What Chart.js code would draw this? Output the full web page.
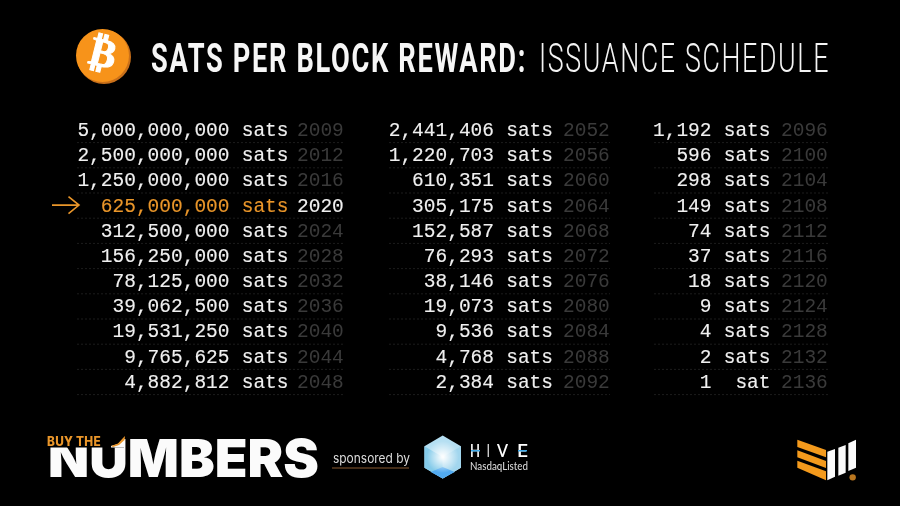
<!DOCTYPE html>
<html><head><meta charset="utf-8">
<style>html,body{margin:0;padding:0;background:#000;overflow:hidden}canvas{display:block}</style>
<script src="https://cdn.jsdelivr.net/npm/chart.js@4"></script>
</head><body><canvas id="c" width="900" height="506"></canvas>
<script>
const rewardsA=[5000000000,2500000000,1250000000,625000000,312500000,156250000,78125000,39062500,19531250,9765625,4882812];
const yearsA=[2009,2012,2016,2020,2024,2028,2032,2036,2040,2044,2048];
const rewardsB=[2441406,1220703,610351,305175,152587,76293,38146,19073,9536,4768,2384];
const yearsB=[2052,2056,2060,2064,2068,2072,2076,2080,2084,2088,2092];
const rewardsC=[1192,596,298,149,74,37,18,9,4,2,1];
const yearsC=[2096,2100,2104,2108,2112,2116,2120,2124,2128,2132,2136];
const currentYear=2020;
const titleBold='SATS PER BLOCK REWARD:';
const titleThin='ISSUANCE SCHEDULE';

const columns=[
 {rewards:rewardsA,years:yearsA,edge:229.5,left:77,right:345,yearGap:67.5},
 {rewards:rewardsB,years:yearsB,edge:494,left:389,right:610,yearGap:69},
 {rewards:rewardsC,years:yearsC,edge:711.5,left:654,right:829,yearGap:69.5}
];
const ORANGE='#ea962a',WHITE='#f0f0f0',DIM='#3a3a3a',MONO='19.5px "Liberation Mono","DejaVu Sans Mono",monospace';

const pointDatasets=columns.map(c=>({type:'scatter',data:c.rewards.map((v,i)=>({x:c.edge,y:i,reward:v,year:c.years[i],gap:c.yearGap})),pointRadius:0}));
const ruleDatasets=[];
columns.forEach(c=>c.rewards.forEach((_,i)=>ruleDatasets.push({type:'scatter',showLine:true,data:[{x:c.left,y:i+.5},{x:c.right,y:i+.5}],pointRadius:0,borderColor:'#1c1c1c',borderWidth:1,borderDash:[2,2]})));

function fit(ctx,t,x,y,w,font,col,ls,stroke){ctx.save();ctx.font=font;ctx.letterSpacing=(ls||0)+'px';ctx.fillStyle=col;ctx.textAlign='left';ctx.textBaseline='alphabetic';
 const m=ctx.measureText(t).width;ctx.translate(x,y);ctx.scale(w/m,1);ctx.fillText(t,0,0);
 if(stroke){ctx.strokeStyle=col;ctx.lineWidth=stroke;ctx.lineJoin='round';ctx.strokeText(t,0,0);}ctx.restore();}
function poly(ctx,p,col){ctx.fillStyle=col;ctx.beginPath();p.forEach((q,i)=>i?ctx.lineTo(q[0],q[1]):ctx.moveTo(q[0],q[1]));ctx.closePath();ctx.fill();}
function mono(ctx,t,x,y,col,weight){ctx.save();ctx.translate(x,y);ctx.scale(1,1.05);ctx.fillStyle=col;ctx.fillText(t,0,0);
 if(weight){ctx.strokeStyle=col;ctx.lineWidth=weight;ctx.strokeText(t,0,0);}ctx.restore();}

const tablePlugin={id:'table',afterDatasetsDraw(ch){
 const ctx=ch.ctx,xs=ch.scales.x,ys=ch.scales.y;
 ctx.save();ctx.font=MONO;ctx.textBaseline='alphabetic';
 pointDatasets.forEach(ds=>ds.data.forEach(p=>{
  const x=xs.getPixelForValue(p.x),y=ys.getPixelForValue(p.y)+5.9;
  const now=p.year===currentYear;
  ctx.textAlign='right';
  mono(ctx,p.reward.toLocaleString('en-US'),x,y,now?ORANGE:WHITE,0.12);
  mono(ctx,p.reward===1?'sat':'sats',x+59,y,now?ORANGE:WHITE,0.12);
  ctx.textAlign='left';
  mono(ctx,String(p.year),x+p.gap,y,now?WHITE:DIM,now?0.12:0);
  if(now){const ay=ys.getPixelForValue(p.y)-0.5;ctx.strokeStyle=ORANGE;ctx.lineWidth=1.6;ctx.beginPath();ctx.moveTo(52,ay);ctx.lineTo(79,ay);ctx.moveTo(68.5,ay-8.5);ctx.lineTo(79,ay);ctx.lineTo(68.5,ay+8.5);ctx.stroke();}
 }));
 ctx.restore();
}};

const decorPlugin={id:'decor',afterDraw(ch){
 const ctx=ch.ctx;
 // title
 fit(ctx,titleBold,151,71.5,376,'700 41px "Roboto","Liberation Sans"','#f6f6f6',2.5);
 fit(ctx,titleThin,539,71.5,291,'300 41px "Roboto","Liberation Sans"','#f4f4f4',2.5);
 // coin
 ctx.fillStyle='#c9701a';ctx.beginPath();ctx.arc(104,57,27,0,7);ctx.fill();
 ctx.fillStyle='#f7931a';ctx.beginPath();ctx.arc(102.5,55.5,26.5,0,7);ctx.fill();
 ctx.save();ctx.translate(102.5,56);ctx.rotate(14*Math.PI/180);ctx.font='700 40px "DejaVu Sans"';ctx.textAlign='center';ctx.textBaseline='middle';ctx.fillStyle='#fff';ctx.strokeStyle='#fff';ctx.lineWidth=1;ctx.fillText('\u20BF',0,0);ctx.strokeText('\u20BF',0,0);ctx.restore();
 // footer brand
 fit(ctx,'NUMBERS',48,477,271,'900 52px "Inter","Lato"','#fbfbfb',0);
 ctx.fillStyle='#000';ctx.fillRect(44,434,80,13.5);
 poly(ctx,[[111,447.5],[111,446],[118,444],[124,438],[124,447.5]],'#fbfbfb');
 poly(ctx,[[111,446],[118,443.5],[123,438],[125,436],[124.5,440],[119,445],[113,447]],ORANGE);
 fit(ctx,'BUY THE',47,445.7,54,'800 12.5px "Inter","Lato"',ORANGE,0.3);
 // sponsor
 fit(ctx,'sponsored by',333,462.5,77,'400 13px "Inter"','#dddddd',0);
 ctx.fillStyle='#8a5a30';ctx.fillRect(332,467.5,77,1);
 // hive hexagon
 const cx=442.7,cy=457,r=21.5,h=(a)=>[cx+r*Math.cos(a)*0.98,cy+r*Math.sin(a)];
 const v=[0,1,2,3,4,5].map(i=>h(-Math.PI/2+i*Math.PI/3));
 poly(ctx,v,'#b5dff2');
 poly(ctx,[[cx,cy],v[1],v[2],v[3]],'#a2d6ee');
 poly(ctx,[[cx,cy],v[3],v[4],v[5]],'#84cbea');
 poly(ctx,[[cx,cy+10],[cx+12,cy+15],v[3],[cx-12,cy+15]],'#52aaf0');
 const g=ctx.createRadialGradient(cx,cy,1,cx,cy,16);g.addColorStop(0,'rgba(255,255,255,.95)');g.addColorStop(1,'rgba(255,255,255,0)');
 ctx.fillStyle=g;ctx.beginPath();ctx.arc(cx,cy,16,0,7);ctx.fill();
 ['H','I','V','E'].forEach((l,i)=>{fit(ctx,l,[470,487,497,517][i],457,[10,2.5,11,11][i],'600 18px "Lato"','#fff',0);});
 ctx.fillStyle='#3fa9e8';ctx.fillRect(471,450,9,1.5);ctx.fillRect(518,450,9,1.5);
 fit(ctx,'NasdaqListed',470,470,58,'500 10.5px "Lato"','#d6d6d6',0);
 // right logo
 const X=a=>780+a/3,Y=a=>425+a/3,P=l=>l.map(q=>[X(q[0]),Y(q[1])]);
 poly(ctx,P([[52,44],[138,75],[138,97],[52,66]]),'#f49a1c');
 poly(ctx,P([[52,76],[138,108],[138,129],[52,97]]),'#f49a1c');
 poly(ctx,P([[52,107],[138,139],[138,166],[52,128]]),'#f49a1c');
 poly(ctx,P([[142,80],[165,72],[165,155],[142,166]]),'#fafafa');
 poly(ctx,P([[175,68],[197,60],[197,143],[175,152]]),'#fafafa');
 poly(ctx,P([[205,55],[228,44],[228,128],[205,138]]),'#fafafa');
 ctx.fillStyle='#b9761f';ctx.beginPath();ctx.arc(X(218),Y(157),3.2,0,7);ctx.fill();
}};

new Chart(document.getElementById('c'),{
 data:{datasets:[...ruleDatasets,...pointDatasets]},
 options:{responsive:false,animation:false,devicePixelRatio:1,layout:{padding:0},
  plugins:{legend:{display:false},title:{display:false},tooltip:{enabled:false}},
  scales:{
   x:{type:'linear',display:false,min:0,max:900},
   y:{type:'linear',display:false,reverse:true,min:-5.159,max:14.921}
  }},
 plugins:[{id:'bg',beforeDraw(ch){ch.ctx.fillStyle='#000';ch.ctx.fillRect(0,0,900,506);}},tablePlugin,decorPlugin]
});
</script></body></html>
